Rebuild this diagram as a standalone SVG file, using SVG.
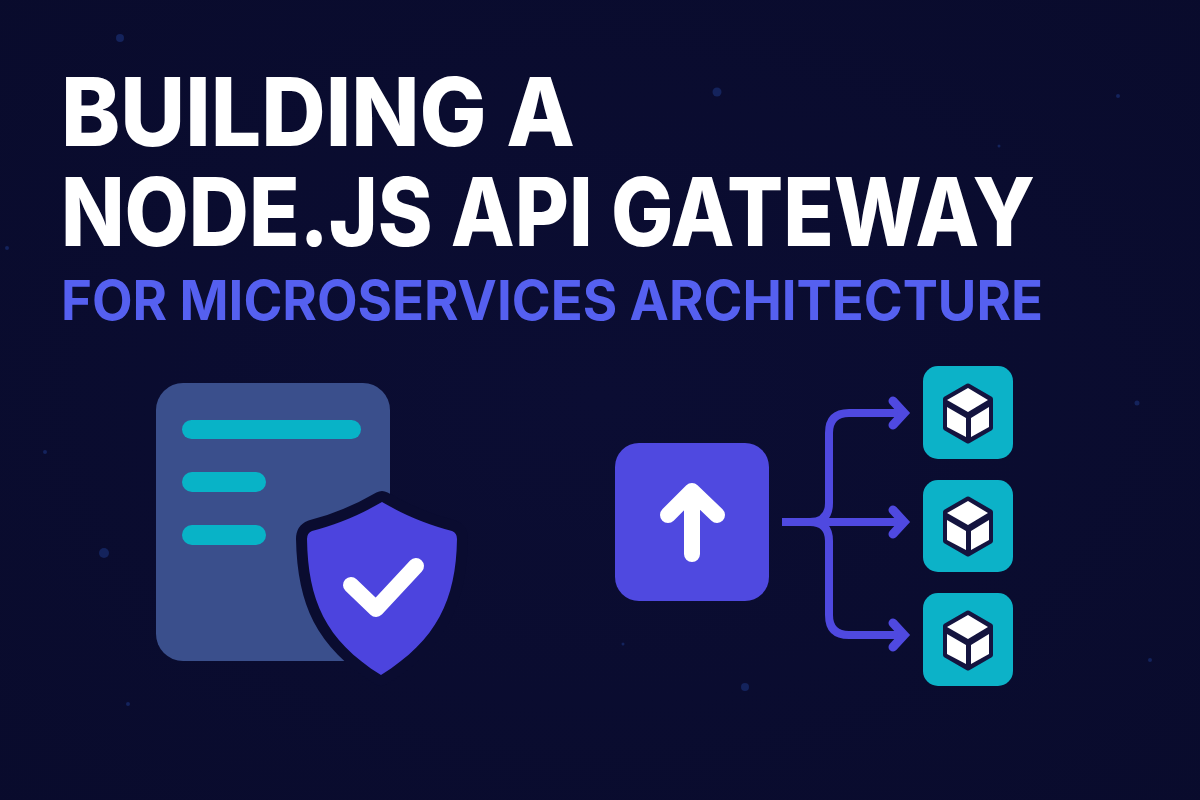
<svg xmlns="http://www.w3.org/2000/svg" width="1200" height="800" viewBox="0 0 1200 800">
<style>
.t{font-family:Inter,"Liberation Sans",sans-serif;font-weight:800}
.h{font-size:95px;fill:#fff}
.s{font-size:55px;fill:#5560f0;font-weight:700}
.c{fill:none;stroke:#4f49e0;stroke-width:8;stroke-linejoin:round}
.head{fill:none;stroke:#4f49e0;stroke-width:9;stroke-linecap:round;stroke-linejoin:miter}
.bar{fill:#08b3c7}
.svc{fill:#0cb2c8}
.d{fill:#14235c}
</style>
<defs>
<radialGradient id="bg" cx="50%" cy="50%" r="75%"><stop offset="0" stop-color="#0b0d33"/><stop offset="1" stop-color="#090b2c"/></radialGradient>
<g id="cube">
<path d="M0-27 22.500-14V15L0 28-22.500 15V-14Z" fill="#14143f" stroke="#14143f" stroke-width="5" stroke-linejoin="round"/>
<path d="M0-25 20-13 0-1-21-13ZM-21-6-2 5V24L-21 14ZM21-6 3 5V24L21 14Z" fill="#fff"/>
</g>
</defs>
<rect width="1200" height="800" fill="url(#bg)"/>
<g id="dots">
<circle class="d" cx="120" cy="38" r="4"/><circle class="d" cx="717" cy="92" r="4.500"/><circle class="d" cx="104" cy="553" r="5"/><circle class="d" cx="745" cy="687" r="4"/><circle class="d" cx="1137" cy="403" r="2.500"/><circle class="d" cx="999" cy="146" r="1.500"/><circle class="d" cx="623" cy="644" r="1.500"/><circle class="d" cx="7" cy="248" r="2"/><circle class="d" cx="45" cy="452" r="2"/><circle class="d" cx="128" cy="704" r="2"/><circle class="d" cx="1118" cy="96" r="2"/><circle class="d" cx="1150" cy="660" r="2"/>
</g>
<g id="title">
<text class="t h" x="61" y="146" textLength="514" lengthAdjust="spacingAndGlyphs">BUILDING A</text>
<text class="t h" x="61" y="246" textLength="974" lengthAdjust="spacingAndGlyphs">NODE.JS API GATEWAY</text>
<text class="t s" x="61" y="320" textLength="982" lengthAdjust="spacingAndGlyphs">FOR MICROSERVICES ARCHITECTURE</text>
</g>
<g id="document">
<rect x="156" y="383" width="234" height="278" rx="27" fill="#3a4f8c"/>
<rect class="bar" x="182" y="420" width="179" height="19" rx="9.500"/>
<rect class="bar" x="182" y="472" width="84" height="20" rx="10"/>
<rect class="bar" x="182" y="525" width="84" height="20" rx="10"/>
</g>
<g id="shield">
<path d="M382 502C360 515 335 525 312 531Q307 533 307 539C308 600 325 640 381 675C437 640 456 600 457 539Q457 533 452 531C429 525 404 515 382 502Z" fill="#4c44de" stroke="#0a0c30" stroke-width="22" stroke-linejoin="round" paint-order="stroke"/>
<path d="M351 585 376 609 416 566" fill="none" stroke="#fff" stroke-width="16" stroke-linecap="round" stroke-linejoin="round"/>
</g>
<g id="gateway">
<rect x="615" y="443" width="154" height="158" rx="24" fill="#4f49e0"/>
<path d="M692 554V492M668 515 692 491 717 515" fill="none" stroke="#fff" stroke-width="16" stroke-linecap="round" stroke-linejoin="round"/>
</g>
<g id="connectors">
<path class="c" d="M782 522H810Q829 522 829 503V433Q829 413 849 413H904"/>
<path class="c" d="M810 522Q829 522 829 541V615Q829 635 849 635H904"/>
<path class="c" d="M782 522H904"/>
<path class="head" d="M893 401 904 413 893 425M893 510 904 522 893 534M893 623 904 635 893 647"/>
</g>
<g id="service-1"><rect class="svc" x="923" y="366" width="90" height="93" rx="15"/><use href="#cube" x="968" y="413"/></g>
<g id="service-2"><rect class="svc" x="923" y="480" width="90" height="92" rx="15"/><use href="#cube" x="968" y="526"/></g>
<g id="service-3"><rect class="svc" x="923" y="593" width="90" height="93" rx="15"/><use href="#cube" x="968" y="640"/></g>
</svg>
